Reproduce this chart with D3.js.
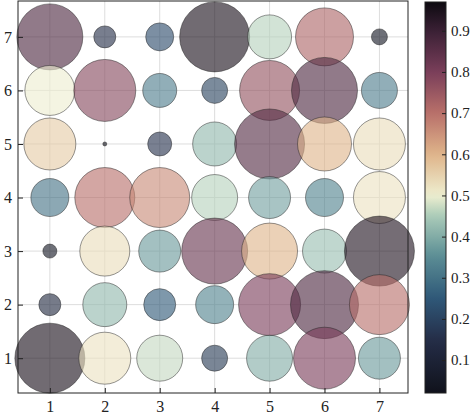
<!DOCTYPE html><html><head><meta charset="utf-8"><script src="https://cdn.jsdelivr.net/npm/d3@7"></script>
<style>body{margin:0;background:#fff}text{font-family:"Liberation Serif",serif}</style></head><body><svg id="c" width="474" height="420"></svg><script>
const xs=[1,2,3,4,5,6,7], ys=[7,6,5,4,3,2,1];
const radii=[
[33,11,14,35,22,29,8],
[25,31,17,13,30,33,18],
[26,2,12,22,35,27,26],
[19,30,30,23,21,19,26],
[7,25,21,33,28,22,35],
[11,22,16,19,31,34,30],
[35,26,23,13,23,31,21]];
const vals=[
[0.87,0.15,0.22,0.95,0.46,0.72,0.05],
[0.5,0.78,0.32,0.2,0.76,0.87,0.32],
[0.56,0.02,0.16,0.42,0.86,0.6,0.53],
[0.3,0.7,0.66,0.46,0.38,0.33,0.52],
[0.05,0.53,0.37,0.83,0.6,0.43,0.94],
[0.13,0.42,0.25,0.33,0.8,0.87,0.7],
[0.95,0.52,0.47,0.18,0.4,0.8,0.37]];
const cbTicks=[0.1,0.2,0.3,0.4,0.5,0.6,0.7,0.8,0.9];
const stopV=[0,0.15,0.25,0.35,0.45,0.5,0.6,0.7,0.8,0.9,0.97];
const stopC=["#0d0d14","#252e48","#2f5878","#5a8c94","#a9cbb8","#eeeed0","#dfb48a","#b8706a","#7a3e5a","#3a2035","#0d0a10"];
const cmap=d3.scaleLinear().domain(stopV).range(stopC).clamp(true);
const svg=d3.select("#c");
const x=d3.scaleLinear().domain([0.42,7.52]).range([18,408]);
const y=d3.scaleLinear().domain([0.35,7.67]).range([393,1]);
const g=svg.append("g");
g.append("g").attr("stroke","#ddd").selectAll("line").data(xs).join("line").attr("x1",d=>x(d)).attr("x2",d=>x(d)).attr("y1",1).attr("y2",393);
g.append("g").attr("stroke","#ddd").selectAll("line").data(ys).join("line").attr("y1",d=>y(d)).attr("y2",d=>y(d)).attr("x1",18).attr("x2",408);
const cells=[];ys.forEach((yy,i)=>xs.forEach((xx,j)=>cells.push({x:xx,y:yy,r:radii[i][j],v:vals[i][j]})));
g.selectAll("circle").data(cells).join("circle").attr("cx",d=>x(d.x)).attr("cy",d=>y(d.y)).attr("r",d=>d.r)
 .attr("fill",d=>cmap(d.v)).attr("fill-opacity",0.62).attr("stroke","#222").attr("stroke-opacity",0.6).attr("stroke-width",0.8);
svg.append("rect").attr("x",18).attr("y",1).attr("width",390).attr("height",392).attr("fill","none").attr("stroke","#222");
const xa=svg.append("g").attr("transform","translate(0,393)").call(d3.axisBottom(x).tickValues(xs).tickSize(-5).tickPadding(8).tickFormat(d3.format("d")));
const ya=svg.append("g").attr("transform","translate(18,0)").call(d3.axisLeft(y).tickValues(ys).tickSize(-5).tickPadding(6).tickFormat(d3.format("d")));
[xa,ya].forEach(a=>{a.select(".domain").remove();a.selectAll("text").attr("font-size",16).attr("fill","#222").style("font-family","Liberation Serif");a.selectAll("line").attr("stroke","#222");});
const cy=d3.scaleLinear().domain([0.02,0.97]).range([393,2]);
const defs=svg.append("defs");const lg=defs.append("linearGradient").attr("id","cb").attr("x1",0).attr("y1",1).attr("x2",0).attr("y2",0);
d3.range(0,1.001,0.02).forEach(t=>{const v=0.02+t*0.95;lg.append("stop").attr("offset",t).attr("stop-color",cmap(v));});
svg.append("rect").attr("x",425).attr("y",2).attr("width",21).attr("height",391).attr("fill","url(#cb)").attr("stroke","#222");
const ca=svg.append("g").attr("transform","translate(446,0)").call(d3.axisRight(cy).tickValues(cbTicks).tickSize(-4).tickPadding(5));
ca.select(".domain").remove();ca.selectAll("text").attr("font-size",15).attr("fill","#222").style("font-family","Liberation Serif");ca.selectAll("line").attr("stroke","#222");
</script></body></html>
